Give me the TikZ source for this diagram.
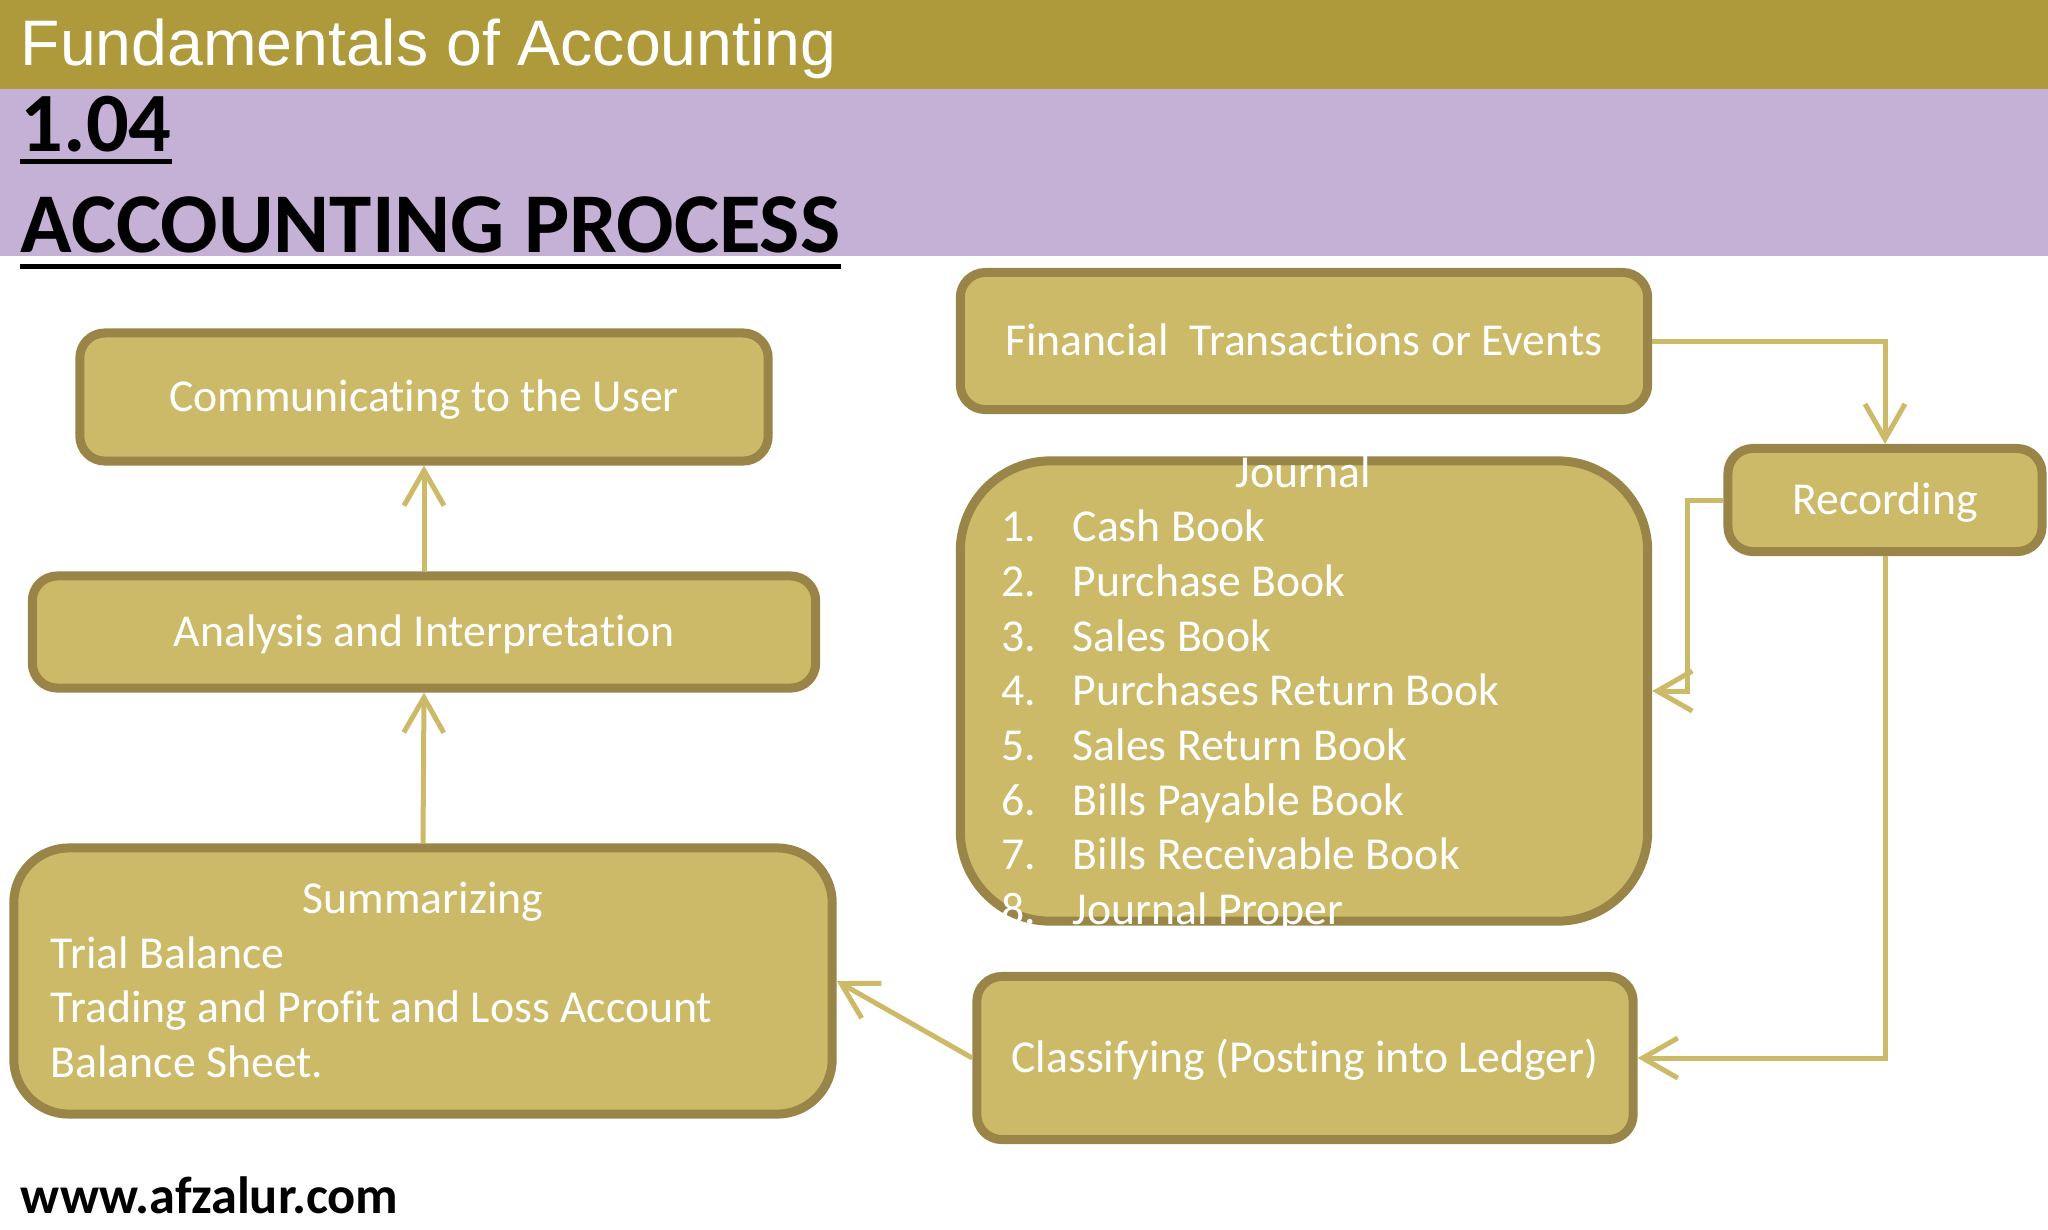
\documentclass[tikz,border=0pt]{standalone}
\usepackage{fontspec}
\setmainfont[Ligatures={NoCommon,NoContextual},Contextuals=NoAlternate,RawFeature={-liga;-clig;-calt}]{Carlito}
\newfontfamily\headfont{Liberation Sans}
\usetikzlibrary{arrows.meta}

\definecolor{headolive}{HTML}{AE9A3B}
\definecolor{headlilac}{HTML}{C5B0D6}
\definecolor{boxfill}{HTML}{CDBA69}
\definecolor{boxedge}{HTML}{9A8548}
\definecolor{flowline}{HTML}{CDBA69}

\begin{document}
\begin{tikzpicture}[x=0.01cm, y=-0.01cm,
    stage/.style={draw=boxedge, fill=boxfill, line width=0.09cm, rounded corners=0.25cm,
        text=white, font=\fontsize{13pt}{15.6pt}\selectfont,
        text height=0.29cm, text depth=0pt, inner sep=0pt},
    listtext/.style={text=white, font=\fontsize{13pt}{15.6pt}\selectfont,
        anchor=base west, inner sep=0pt},
    flow/.style={draw=flowline, line width=0.05cm,
        -{Straight Barb[length=0.35cm,width=0.4cm]}}]
    \useasboundingbox (0,0) rectangle (2048,1229);
    \fill[white] (0,0) rectangle (2048,1229);

    % Title bands
    \fill[headolive] (0,0) rectangle (2048,89);
    \fill[headlilac] (0,89) rectangle (2048,256);
    \node[anchor=base west, inner sep=0pt, text=white,
        font=\headfont\fontsize{18.3pt}{21pt}\selectfont] (course) at (20,65) {Fundamentals of Accounting};
    \node[anchor=base west, inner sep=0pt,
        font=\bfseries\fontsize{24pt}{28pt}\selectfont] (chapter) at (20,151) {1.04};
    \node[anchor=base west, inner sep=0pt,
        font=\bfseries\fontsize{24.2pt}{28pt}\selectfont] (topic) at (20,252) {ACCOUNTING PROCESS};
    \draw[line width=0.05cm] ([yshift=-0.09cm]chapter.south west) -- ([yshift=-0.09cm]chapter.south east);
    \draw[line width=0.05cm] ([yshift=-0.13cm]topic.south west) -- ([yshift=-0.13cm]topic.south east);

    % Process boxes
    \node[stage, minimum width=6.87cm, minimum height=1.37cm] (events) at (1304,341) {Financial\ \ Transactions or Events};
    \node[stage, minimum width=3.14cm, minimum height=1.03cm] (recording) at (1885,500) {Recording};
    \node[stage, rounded corners=0.9cm, minimum width=6.87cm, minimum height=4.6cm] (journal) at (1304,691) {};
    \node[stage, minimum width=6.56cm, minimum height=1.63cm] (classifying) at (1305,1058) {Classifying (Posting into Ledger)};
    \node[stage, rounded corners=0.55cm, minimum width=8.18cm, minimum height=2.66cm] (summarizing) at (423,981) {};
    \node[stage, minimum width=7.83cm, minimum height=1.12cm] (analysis) at (424,632) {Analysis and Interpretation};
    \node[stage, minimum width=6.88cm, minimum height=1.28cm] (communicating) at (424,397) {Communicating to the User};

    % Journal list
    \node[listtext, anchor=base] (jhead) at (1303,487) {Journal};
    \foreach \k/\book in {1/Cash Book, 2/Purchase Book, 3/Sales Book, 4/Purchases Return Book,
        5/Sales Return Book, 6/Bills Payable Book, 7/Bills Receivable Book, 8/Journal Proper} {
        \node[listtext] (num\k) at (1001,{487+54.7*\k}) {\k.};
        \node[listtext] (book\k) at (1072,{487+54.7*\k}) {\book};
    }

    % Summarizing text
    \node[listtext, anchor=base] (sumhead) at (423,913) {Summarizing};
    \node[listtext] (sum1) at (50,968) {Trial Balance};
    \node[listtext] (sum2) at (50,1022) {Trading and Profit and Loss Account};
    \node[listtext] (sum3) at (50,1077) {Balance Sheet.};

    % Flow arrows
    \draw[flow] (events.east) -| (recording.north);
    \draw[flow] (recording.west) -- ++(-36,0) |- (journal.east);
    \draw[flow] (recording.south) |- (classifying.east);
    \draw[flow] (classifying.west) -- (summarizing.east);
    \draw[flow] (summarizing.north) -- (analysis.south);
    \draw[flow] (analysis.north) -- (communicating.south);

    \node[anchor=base west, inner sep=0pt,
        font=\bfseries\fontsize{14.9pt}{17pt}\selectfont] (site) at (20,1213) {www.afzalur.com};
\end{tikzpicture}
\end{document}
